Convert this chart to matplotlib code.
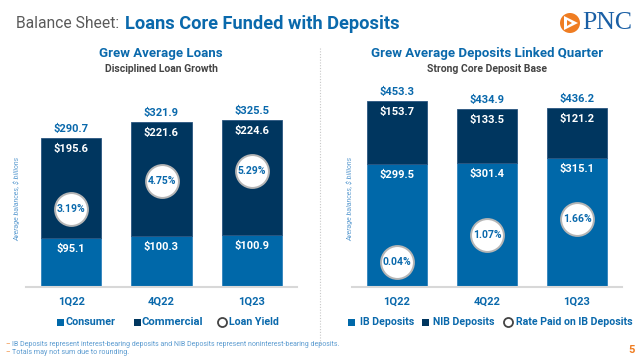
import matplotlib
matplotlib.use("Agg")
import matplotlib.pyplot as plt
from matplotlib.patches import Ellipse, Polygon, Rectangle
from matplotlib.lines import Line2D

plt.rcParams['font.family'] = ['Roboto', 'DejaVu Sans']

quarters = ["1Q22", "4Q22", "1Q23"]
consumer = [95.1, 100.3, 100.9]
commercial = [195.6, 221.6, 224.6]
loan_total = [290.7, 321.9, 325.5]
loan_yield = [3.19, 4.75, 5.29]

ib_dep = [299.5, 301.4, 315.1]
nib_dep = [153.7, 133.5, 121.2]
dep_total = [453.3, 434.9, 436.2]
ib_rate = [0.04, 1.07, 1.66]

left_legend = ["Consumer", "Commercial", "Loan Yield"]
right_legend = ["IB Deposits", "NIB Deposits", "Rate Paid on IB Deposits"]

LIGHT = "#0068A9"
NAVY = "#00365F"
TXT = "#0A69AC"
GRAY = "#5a5a5a"
ORANGE = "#EF7D22"
FOOT = "#5b9bd0"

W, H = 640, 362
fig = plt.figure(figsize=(6.4, 3.62), dpi=100)
fig.canvas.draw()
R = fig.canvas.get_renderer()


def fx(px):
    return px / W


def fy(py):
    return 1 - py / H


def fit_text(x0, x1, y, s, size, **kw):
    """Place left-aligned text starting at pixel x0 and scale it to end at x1."""
    t = fig.text(fx(x0), fy(y), s, fontsize=size, ha="left", va="center", **kw)
    bb = t.get_window_extent(renderer=R)
    t.set_fontsize(size * (x1 - x0) / bb.width)
    return t


def panel(rect, ylim, lo, hi, tot, rates, rlim):
    ax = fig.add_axes(rect)
    x = list(range(len(quarters)))
    ax.bar(x, lo, width=0.665, color=LIGHT, edgecolor="#2f83bd", linewidth=0.6)
    ax.bar(x, hi, bottom=lo, width=0.665, color=NAVY, edgecolor="#2a5580", linewidth=0.6)
    for i in x:
        ax.annotate(f"${lo[i]:.1f}", (i, lo[i]), xytext=(0, -8), textcoords="offset points",
                    ha="center", va="center", color="white", fontsize=8, fontweight="bold")
        ax.annotate(f"${hi[i]:.1f}", (i, lo[i] + hi[i]), xytext=(0, -8), textcoords="offset points",
                    ha="center", va="center", color="white", fontsize=8, fontweight="bold")
        ax.annotate(f"${tot[i]:.1f}", (i, lo[i] + hi[i]), xytext=(0, 6.5), textcoords="offset points",
                    ha="center", va="center", color=TXT, fontsize=8, fontweight="bold",
                    annotation_clip=False)
    ax.set_xlim(-0.5, 2.5)
    ax.set_ylim(*ylim)
    ax.set_xticks(x)
    ax.set_xticklabels(quarters, color=TXT, fontsize=8, fontweight="bold")
    ax.tick_params(axis="x", length=0, pad=7)
    ax.set_yticks([])
    for s in ["top", "right", "left"]:
        ax.spines[s].set_visible(False)
    ax.spines["bottom"].set_color("#d8d8d8")
    ax.spines["bottom"].set_linewidth(1.5)
    ax2 = ax.twinx()
    ax2.set_ylim(*rlim)
    ax2.scatter(x, rates, s=560, facecolor="white", edgecolor="#b5b5b5", linewidth=1.4, zorder=3)
    for i in x:
        ax2.text(i, rates[i], f"{rates[i]:.2f}%", ha="center", va="center", color=TXT,
                 fontsize=7.5, fontweight="bold", zorder=4)
    ax2.axis("off")
    return ax


panel([fx(26), fy(287), fx(271), 187 / H], (0, 364.8), consumer, commercial, loan_total,
      loan_yield, (-1.086, 9.166))
panel([fx(352), fy(286.7), fx(270), 186.7 / H], (0, 455.7), ib_dep, nib_dep, dep_total,
      ib_rate, (-0.914, 6.21))

# Title
fit_text(16, 119, 24, "Balance Sheet:", 12, color=GRAY)
fit_text(125, 400, 24, "Loans Core Funded with Deposits", 13, color=TXT, fontweight="bold")

# PNC logo
fig.patches.append(Ellipse((fx(570), fy(23)), 20 / W, 20 / H, transform=fig.transFigure,
                           facecolor=ORANGE, edgecolor="none", zorder=5))
fig.patches.append(Polygon([(fx(564), fy(16)), (fx(578), fy(23)), (fx(564), fy(30))], closed=True,
                           transform=fig.transFigure, facecolor="white", edgecolor="none", zorder=6))
fig.patches.append(Polygon([(fx(567), fy(20)), (fx(572), fy(23)), (fx(567), fy(26))], closed=True,
                           transform=fig.transFigure, facecolor=ORANGE, edgecolor="none", zorder=7))
fit_text(582, 632, 23, "PNC", 17, color="#1a5fa5", family=["Liberation Serif", "DejaVu Serif"])

# subtitles
fig.text(fx(161), fy(53), "Grew Average Loans", color=TXT, fontsize=9.5, fontweight="bold", ha="center", va="center")
fig.text(fx(161), fy(69), "Disciplined Loan Growth", color="#444444", fontsize=7.5, fontweight="bold", ha="center", va="center")
fig.text(fx(487), fy(53), "Grew Average Deposits Linked Quarter", color=TXT, fontsize=9.5, fontweight="bold", ha="center", va="center")
fig.text(fx(487), fy(69), "Strong Core Deposit Base", color="#444444", fontsize=7.5, fontweight="bold", ha="center", va="center")

# divider
fig.add_artist(Line2D([fx(320), fx(320)], [fy(48), fy(345)], transform=fig.transFigure,
                      color="#c8c8c8", linewidth=0.8, linestyle=(0, (1, 1.5))))

# y labels
for xp in (17, 350):
    fig.text(fx(xp), fy(199), "Average balances, $ billions", rotation=90, color=FOOT,
             fontsize=5, ha="center", va="center", style="italic")


# legends (manual)
def legend(labels, mark_x, text_x, text_end):
    y = 322
    colors = [LIGHT, NAVY]
    for k in range(2):
        fig.patches.append(Rectangle((fx(mark_x[k] - 3.5), fy(y + 3.5)), 7 / W, 7 / H,
                                     transform=fig.transFigure, facecolor=colors[k], edgecolor="none"))
    fig.add_artist(Line2D([fx(mark_x[2])], [fy(y)], transform=fig.transFigure, marker="o",
                          linestyle="none", markerfacecolor="white", markeredgecolor="#444444",
                          markeredgewidth=1.3, markersize=6.5))
    for k in range(3):
        t = fig.text(fx(text_x[k]), fy(y), labels[k], color=TXT, fontsize=7.6, fontweight="bold",
                     ha="left", va="center")
        bb = t.get_window_extent(renderer=R)
        t.set_fontsize(min(8.2, 7.6 * (text_end[k] - text_x[k]) / bb.width))


legend(left_legend, [60, 137, 222], [66, 142, 229], [116, 203, 279])
legend(right_legend, [351, 425, 508], [360, 433, 516], [414, 494, 632])

# footnotes
for yy, txt, end in ((345, "IB Deposits represent interest-bearing deposits and NIB Deposits represent noninterest-bearing deposits.", 333),
                     (353, "Totals may not sum due to rounding.", 127)):
    fig.text(fx(5), fy(yy), "–", color=ORANGE, fontsize=5, ha="left", va="center")
    fit_text(12, end, yy, txt, 4.9, color=FOOT)
fig.text(fx(632), fy(350), "5", color=ORANGE, fontsize=8, fontweight="bold", ha="center", va="center")

fig.savefig("out.png", dpi=100)
